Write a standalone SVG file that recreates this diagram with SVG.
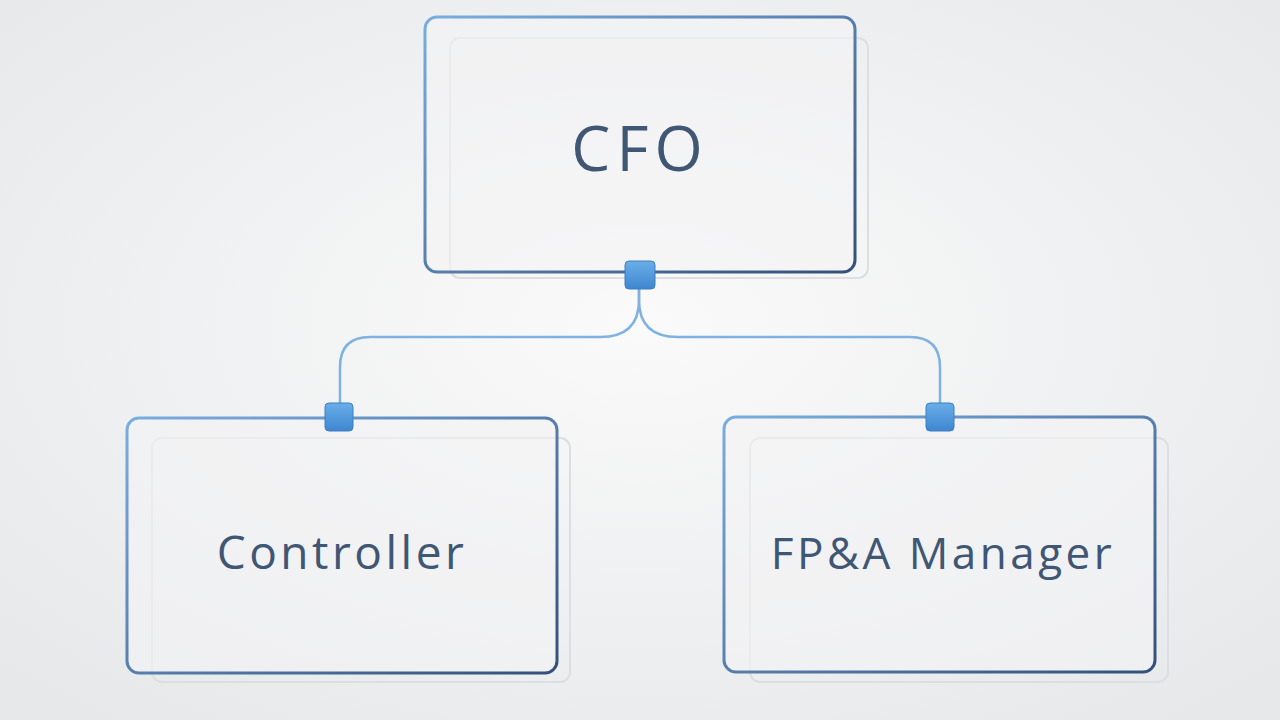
<svg xmlns="http://www.w3.org/2000/svg" width="1280" height="720" viewBox="0 0 1280 720">
<defs>
<radialGradient id="bg" cx="50%" cy="45%" r="70%"><stop offset="0" stop-color="#fafafa"/><stop offset="1" stop-color="#e6e8ea"/></radialGradient>
<linearGradient id="bd" x1="0" y1="0" x2="1" y2="1"><stop offset="0" stop-color="#7aaee0"/><stop offset="1" stop-color="#34507a"/></linearGradient>
<linearGradient id="pt" x1="0" y1="0" x2="0" y2="1"><stop offset="0" stop-color="#6aaee8"/><stop offset="1" stop-color="#3e86d0"/></linearGradient>
</defs>
<style>
.box{fill:#f3f4f5;fill-opacity:0.6;stroke:url(#bd);stroke-width:3}
.inner{fill:none;stroke:#dcdfe2;stroke-width:2}
.t{font-family:"Open Sans",Lato,sans-serif;font-weight:500;fill:#3f5674;text-anchor:middle}
.c{fill:none;stroke:#7fb2e0;stroke-width:2.5}
.p{fill:url(#pt);stroke:#3a7fc4;stroke-width:1}
</style>
<rect width="1280" height="720" fill="url(#bg)"/>
<g id="connectors">
<path class="c" d="M639 285 V300 Q639 337 600 337 H370 Q340 337 340 367 V405"/>
<path class="c" d="M639 285 V300 Q639 337 678 337 H910 Q940 337 940 367 V405"/>
</g>
<g id="cfo">
<rect class="inner" x="450" y="38" width="418" height="240" rx="10"/>
<rect class="box" x="425" y="17" width="430" height="255" rx="12"/>
<text class="t" x="640" y="171" font-size="62" letter-spacing="6">CFO</text>
<rect class="p" x="625" y="261" width="30" height="28" rx="4"/>
</g>
<g id="controller">
<rect class="inner" x="152" y="438" width="418" height="244" rx="10"/>
<rect class="box" x="127" y="418" width="430" height="255" rx="12"/>
<text class="t" x="342" y="569" font-size="46" letter-spacing="3.5">Controller</text>
<rect class="p" x="325" y="403" width="28" height="28" rx="4"/>
</g>
<g id="fpa">
<rect class="inner" x="750" y="438" width="418" height="244" rx="10"/>
<rect class="box" x="724" y="417" width="431" height="255" rx="12"/>
<text class="t" x="943" y="569" font-size="44" letter-spacing="3.5">FP&amp;A Manager</text>
<rect class="p" x="926" y="403" width="28" height="28" rx="4"/>
</g>
</svg>
